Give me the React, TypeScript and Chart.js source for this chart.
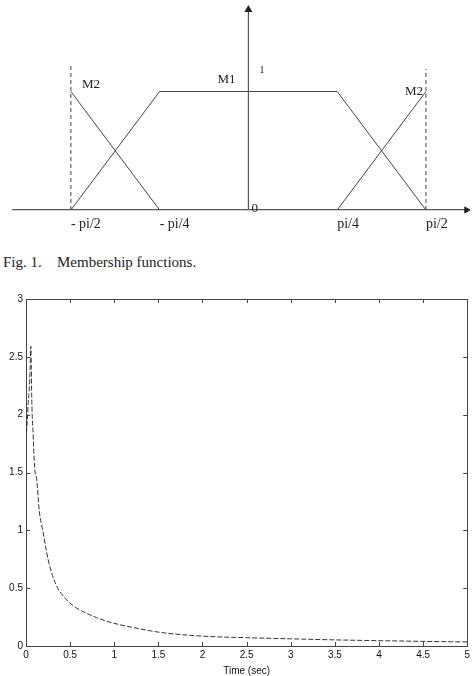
import { useEffect, useRef } from 'react';
import Chart from 'chart.js/auto';

// Fig. 1: membership functions, x in radians
const mfBreaks = [-1.5708, -0.7854, 0.7854, 1.5708];
const mfTickLabels = ['- pi/2', '- pi/4', 'pi/4', 'pi/2'];
const m1Values = [0, 1, 1, 0];
const m2LeftX = [-1.5708, -0.7854];
const m2LeftValues = [1, 0];
const m2RightX = [0.7854, 1.5708];
const m2RightValues = [0, 1];
const boundX = [-1.5708, 1.5708];
const boundTop = [1.22, 1.19];

// Fig. 2: response against time
const timeSec = [
  0.005, 0.015, 0.025, 0.035, 0.045, 0.055, 0.06, 0.065, 0.07, 0.08, 0.09, 0.1,
  0.12, 0.15, 0.19, 0.25, 0.3, 0.36, 0.46, 0.55, 0.64, 0.8, 0.98, 1.28, 1.5, 2,
  2.5, 3, 3.5, 4, 4.5, 5,
];
const response = [
  1.84, 1.95, 2.1, 2.2, 2.35, 2.59, 2.4, 2.15, 2.0, 1.85, 1.65, 1.52, 1.45, 1.17,
  1.0, 0.75, 0.61, 0.5, 0.4, 0.34, 0.3, 0.245, 0.2, 0.15, 0.12, 0.085, 0.072,
  0.062, 0.053, 0.046, 0.04, 0.035,
];
const timeTicks = [0, 0.5, 1, 1.5, 2, 2.5, 3, 3.5, 4, 4.5, 5];
const valueTicks = [0, 0.5, 1, 1.5, 2, 2.5, 3];

const serif = 'Liberation Serif, Times New Roman, serif';
const sans = 'Liberation Sans, Arial, sans-serif';

const pts = (xs: number[], ys: number[]) => xs.map((x, i) => ({ x, y: ys[i] }));

const mfLabels = {
  id: 'mfLabels',
  afterDatasetsDraw(chart: any) {
    const { ctx, scales } = chart;
    const put = (text: string, vx: number, vy: number, dx: number, dy: number, size: number) => {
      ctx.font = `${size}px ${serif}`;
      ctx.fillText(text, scales.x.getPixelForValue(vx) + dx, scales.y.getPixelForValue(vy) + dy);
    };
    ctx.save();
    ctx.fillStyle = '#222';
    ctx.textAlign = 'left';
    ctx.textBaseline = 'middle';
    put('M2', mfBreaks[0], 1, 11, -7, 13);
    put('M1', 0, 1, -31, -12, 13);
    put('1', 0, 1, 11, -21, 10);
    put('M2', mfBreaks[3], 1, -21, 0, 13);
    put('0', 0, 0, 3, -1, 13);
    ctx.restore();
  },
};

const innerTicks = {
  id: 'innerTicks',
  afterDraw(chart: any) {
    const { ctx, chartArea: a, scales } = chart;
    ctx.save();
    ctx.strokeStyle = '#444';
    ctx.lineWidth = 1;
    ctx.beginPath();
    for (const t of timeTicks) {
      const px = Math.round(scales.x.getPixelForValue(t)) + 0.5;
      ctx.moveTo(px, a.bottom);
      ctx.lineTo(px, a.bottom - 4);
      ctx.moveTo(px, a.top);
      ctx.lineTo(px, a.top + 4);
    }
    for (const v of valueTicks) {
      const py = Math.round(scales.y.getPixelForValue(v)) + 0.5;
      ctx.moveTo(a.left, py);
      ctx.lineTo(a.left + 4, py);
      ctx.moveTo(a.right, py);
      ctx.lineTo(a.right - 4, py);
    }
    ctx.stroke();
    ctx.restore();
  },
};

function MembershipChart() {
  const canvasRef = useRef<HTMLCanvasElement>(null);

  useEffect(() => {
    if (!canvasRef.current) return;
    const line = { showLine: true, pointRadius: 0, borderColor: '#444', borderWidth: 1 };
    const chart = new Chart(canvasRef.current, {
      type: 'scatter',
      data: {
        datasets: [
          { ...line, data: pts(mfBreaks, m1Values) },
          { ...line, data: pts(m2LeftX, m2LeftValues) },
          { ...line, data: pts(m2RightX, m2RightValues) },
          { ...line, borderDash: [4, 3], data: [{ x: boundX[0], y: 0 }, { x: boundX[0], y: boundTop[0] }] },
          { ...line, borderDash: [4, 3], data: [{ x: boundX[1], y: 0 }, { x: boundX[1], y: boundTop[1] }] },
          {
            ...line,
            borderColor: '#555',
            borderWidth: 1.2,
            clip: false,
            pointRadius: [0, 3.5],
            pointStyle: 'triangle',
            pointBackgroundColor: '#222',
            pointBorderColor: '#222',
            data: [{ x: 0, y: 0 }, { x: 0, y: 1.69 }],
          },
          {
            showLine: false,
            clip: false,
            pointRadius: 3.5,
            pointStyle: 'triangle',
            rotation: 90,
            pointBackgroundColor: '#222',
            pointBorderColor: '#222',
            data: [{ x: 1.93, y: 0 }],
          },
        ] as any,
      },
      options: {
        animation: false,
        responsive: false,
        events: [],
        layout: { padding: { left: 13, right: 4, top: 0, bottom: 0 } },
        plugins: { legend: { display: false }, tooltip: { enabled: false } },
        scales: {
          x: {
            type: 'linear',
            min: -2.083,
            max: 1.95,
            grid: { display: false, drawTicks: false },
            border: { display: true, color: '#555', width: 1.2 },
            afterBuildTicks: (scale: any) => {
              scale.ticks = mfBreaks.map((value) => ({ value }));
            },
            afterFit: (scale: any) => {
              scale.height = 30;
            },
            ticks: {
              align: 'start',
              padding: 7,
              color: '#222',
              font: { family: serif, size: 14, lineHeight: 1 },
              callback: (_v: any, i: number) => mfTickLabels[i],
            },
          },
          y: { min: 0, max: 1.728, display: false },
        },
      } as any,
      plugins: [mfLabels],
    });
    return () => chart.destroy();
  }, []);

  return <canvas ref={canvasRef} width={474} height={240} style={{ position: 'absolute', left: 0, top: 0 }} />;
}

function ResponseChart() {
  const canvasRef = useRef<HTMLCanvasElement>(null);

  useEffect(() => {
    if (!canvasRef.current) return;
    const tickFont = { family: sans, size: 10, lineHeight: 1 };
    const frame = { display: true, color: '#444', width: 1 };
    const chart = new Chart(canvasRef.current, {
      type: 'scatter',
      data: {
        datasets: [
          {
            showLine: true,
            pointRadius: 0,
            borderColor: '#333',
            borderWidth: 1,
            borderDash: [5, 2],
            cubicInterpolationMode: 'monotone',
            data: pts(timeSec, response),
          },
        ] as any,
      },
      options: {
        animation: false,
        responsive: false,
        events: [],
        layout: { padding: { left: 0, right: 3, top: 19, bottom: 0 } },
        plugins: { legend: { display: false }, tooltip: { enabled: false } },
        scales: {
          x: {
            type: 'linear',
            min: 0,
            max: 5,
            grid: { display: false, drawTicks: false },
            border: frame,
            afterBuildTicks: (scale: any) => {
              scale.ticks = timeTicks.map((value) => ({ value }));
            },
            ticks: {
              padding: 4,
              color: '#111',
              font: tickFont,
              maxRotation: 0,
              callback: (v: any) => String(v),
            },
            title: {
              display: true,
              text: 'Time (sec)',
              color: '#111',
              font: tickFont,
              padding: { top: 2, bottom: 0 },
            },
          },
          y: {
            min: 0,
            max: 3,
            grid: { display: false, drawTicks: false },
            border: frame,
            afterBuildTicks: (scale: any) => {
              scale.ticks = valueTicks.map((value) => ({ value }));
            },
            afterFit: (scale: any) => {
              scale.width = 26;
            },
            ticks: { padding: 3, color: '#111', font: tickFont, callback: (v: any) => String(v) },
          },
          x2: {
            type: 'linear',
            position: 'top',
            min: 0,
            max: 5,
            grid: { display: false, drawTicks: false },
            border: frame,
            ticks: { display: false },
          },
          y2: {
            position: 'right',
            min: 0,
            max: 3,
            grid: { display: false, drawTicks: false },
            border: frame,
            ticks: { display: false },
          },
        },
      } as any,
      plugins: [innerTicks],
    });
    return () => chart.destroy();
  }, []);

  return <canvas ref={canvasRef} width={474} height={396} style={{ position: 'absolute', left: 0, top: 280 }} />;
}

export default function App() {
  return (
    <div style={{ position: 'absolute', left: 0, top: 0, width: 474, height: 676, background: '#fff', overflow: 'hidden' }}>
      <MembershipChart />
      <div
        style={{
          position: 'absolute',
          top: 253,
          left: 0,
          width: 474,
          fontFamily: serif,
          fontSize: 15,
          lineHeight: '18px',
          color: '#222',
          whiteSpace: 'nowrap',
        }}
      >
        <span style={{ position: 'absolute', left: 3 }}>Fig. 1.</span>
        <span style={{ position: 'absolute', left: 57 }}>Membership functions.</span>
      </div>
      <ResponseChart />
    </div>
  );
}
